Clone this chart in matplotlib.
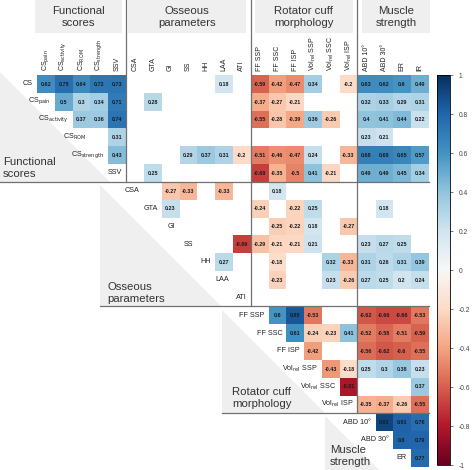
import numpy as np
import matplotlib
matplotlib.use("Agg")
from matplotlib import pyplot as plt
from matplotlib.patches import Polygon, Rectangle

plt.rcParams["font.family"] = ["Liberation Sans", "DejaVu Sans"]

N = None

# variables, in order (rows use all but the last, columns all but the first)
variables = [r"CS", r"CS$_{\mathrm{pain}}$", r"CS$_{\mathrm{activity}}$", r"CS$_{\mathrm{ROM}}$",
             r"CS$_{\mathrm{strength}}$", "SSV",
             "CSA", "GTA", "GI", "SS", "HH", "LAA", "ATI",
             "FF SSP", "FF SSC", "FF ISP",
             r"Vol$_{\mathrm{rel}}$ SSP", r"Vol$_{\mathrm{rel}}$ SSC", r"Vol$_{\mathrm{rel}}$ ISP",
             "ABD 10°", "ABD 30°", "ER", "IR"]

groups = ["Functional\nscores", "Osseous\nparameters", "Rotator cuff\nmorphology", "Muscle\nstrength"]
group_sizes = [6, 7, 6, 4]   # number of variables in each group

# upper triangle, one list per row, starting at the diagonal cell
row_CS = [.62, .75, .64, .72, .73, N, N, N, N, N, .18, N, -.59, -.42, -.47, .34, N, -.2, .63, .62, .6, .49]
row_CSpain = [.5, .3, .34, .71, N, .28, N, N, N, N, N, -.37, -.27, -.21, N, N, N, .32, .33, .29, .31]
row_CSactivity = [.37, .36, .74, N, N, N, N, N, N, N, -.55, -.28, -.39, .36, -.26, N, .4, .41, .44, .22]
row_CSROM = [N, .31, N, N, N, N, N, N, N, N, N, N, N, N, N, .23, .21, N, N]
row_CSstrength = [.43, N, N, N, .29, .37, .31, -.2, -.51, -.46, -.47, .24, N, -.33, .68, .68, .65, .57]
row_SSV = [N, .25, N, N, N, N, N, -.69, -.35, -.5, .41, -.21, N, .49, .49, .45, .34]
row_CSA = [N, -.27, -.33, N, -.33, N, N, .18, N, N, N, N, N, N, N, N]
row_GTA = [.23, N, N, N, N, -.24, N, -.22, .25, N, N, N, .18, N, N]
row_GI = [N, N, N, N, N, -.25, -.22, .18, N, -.27, N, N, N, N]
row_SS = [N, N, -.69, -.29, -.21, -.21, .21, N, N, .23, .27, .25, N]
row_HH = [.27, N, N, -.18, N, N, .32, -.33, .31, .26, .31, .39]
row_LAA = [N, N, -.23, N, N, .23, -.26, .27, .25, .2, .24]
row_ATI = [N, N, N, N, N, N, N, N, N, N]
row_FFSSP = [.6, .85, -.53, N, N, -.62, -.66, -.66, -.53]
row_FFSSC = [.61, -.24, -.23, .41, -.52, -.58, -.51, -.59]
row_FFISP = [-.42, N, N, -.56, -.62, -.6, -.55]
row_VolSSP = [-.43, -.18, .25, .3, .38, .23]
row_VolSSC = [-.81, N, N, N, .37]
row_VolISP = [-.35, -.37, -.26, -.55]
row_ABD10 = [.92, .81, .76]
row_ABD30 = [.8, .79]
row_ER = [.77]

rows = [row_CS, row_CSpain, row_CSactivity, row_CSROM, row_CSstrength, row_SSV,
        row_CSA, row_GTA, row_GI, row_SS, row_HH, row_LAA, row_ATI,
        row_FFSSP, row_FFSSC, row_FFISP, row_VolSSP, row_VolSSC, row_VolISP,
        row_ABD10, row_ABD30, row_ER]

n = len(rows)
M = np.full((n, n), np.nan)
for i, r in enumerate(rows):
    for k, v in enumerate(r):
        if v is not None:
            M[i, i + k] = v

# layout in pixels
W, H = 474, 470
L, T, CELL = 37, 75, 17.8

def px(x, y):
    """figure pixel -> matrix data coords"""
    return (x - L) / CELL, (y - T) / CELL

fig = plt.figure(figsize=(W / 100, H / 100), dpi=100)
ax = fig.add_axes([L / W, 1 - (T + n * CELL) / H, n * CELL / W, n * CELL / H])
ax.patch.set_visible(False)
cmap = matplotlib.colormaps["RdBu"]
im = ax.imshow(M, cmap=cmap, vmin=-1, vmax=1, extent=(0, n, n, 0),
               aspect="auto", interpolation="nearest", zorder=2)
ax.set_xlim(0, n)
ax.set_ylim(n, 0)
ax.axis("off")

for i in range(n):
    for j in range(n):
        v = M[i, j]
        if not np.isnan(v):
            ax.text(j + 0.5, i + 0.52, f"{v:g}", ha="center", va="center",
                    fontsize=3.9, fontweight="bold", color="#1a1a1a", zorder=4)

# column labels (variables 1..), row labels (variables ..n-1)
for j in range(n):
    ax.text(j + 0.5, -0.25, variables[j + 1], rotation=90, ha="center", va="bottom",
            fontsize=5, color="#222222", clip_on=False)
for i in range(n):
    ax.text(i - 0.22, i + 0.5, variables[i], ha="right", va="center",
            fontsize=5.2, color="#222222", clip_on=False, zorder=5)

# group geometry
row_edges = np.cumsum([0] + group_sizes)            # rows: group g spans row_edges[g]..row_edges[g+1]
col_edges = np.cumsum([0] + group_sizes) - 1         # columns are shifted by one
col_edges[0] = 0
row_edges[-1] = n
col_edges[-1] = n
fig_top = px(0, 0)[1]
fig_left = px(0, 0)[0]
fig_bottom = px(0, H)[1]

# gray triangles below the diagonal (left x, offset of hypotenuse)
tri_left = [fig_left, 3.55, 10.4, 16.2]
tri_off = [1.91, 2.64, 2.81, 2.98]
label_pos = [(3, 179), (107, 304), (232, 409), (330, 467)]
for g in range(4):
    x0 = tri_left[g]
    y_top = x0 + tri_off[g]
    y_bot = row_edges[g + 1] if g < 3 else fig_bottom
    poly = Polygon([(x0, y_top), (x0, y_bot), (y_bot - tri_off[g], y_bot)], closed=True,
                   facecolor="#efefef", edgecolor="none", clip_on=False, zorder=0)
    ax.add_patch(poly)
    lx, ly = px(*label_pos[g])
    ax.text(lx, ly, groups[g], ha="left", va="bottom", fontsize=8.2, color="#333333",
            linespacing=1.25, clip_on=False, zorder=5)

# header boxes
box_top, box_bot = px(0, 0)[1], px(0, 33)[1]
box_x = [(35, 122), (128, 246), (255, 353), (362, 430)]
for g in range(4):
    x0 = px(box_x[g][0], 0)[0]
    x1 = px(box_x[g][1], 0)[0]
    ax.add_patch(Rectangle((x0, box_top), x1 - x0, box_bot - box_top, facecolor="#efefef",
                           edgecolor="none", clip_on=False, zorder=0))
    ax.text((x0 + x1) / 2, (box_top + box_bot) / 2 + 0.05, groups[g], ha="center", va="center",
            fontsize=8.2, color="#333333", linespacing=1.25, clip_on=False)

# separator lines
line_kw = dict(color="#707070", lw=0.9, clip_on=False, zorder=6)
line_left = [fig_left, tri_left[1], tri_left[2]]
for g in range(3):
    xc = col_edges[g + 1]
    yr = row_edges[g + 1]
    ax.plot([xc, xc], [fig_top, yr], **line_kw)
    ax.plot([line_left[g], n], [yr, yr], **line_kw)

# colorbar
cax = fig.add_axes([437 / W, 1 - 465 / H, 13 / W, 390 / H])
cb = fig.colorbar(im, cax=cax)
ticks = np.round(np.arange(-1, 1.01, 0.2), 1)
cb.set_ticks(ticks)
cb.set_ticklabels(["0" if t == 0 else f"{t:g}" for t in ticks])
cax.tick_params(labelsize=4.8, length=2, width=0.5, pad=4, colors="#444444")
cb.outline.set_linewidth(0.6)

fig.savefig("out.png", dpi=100)
